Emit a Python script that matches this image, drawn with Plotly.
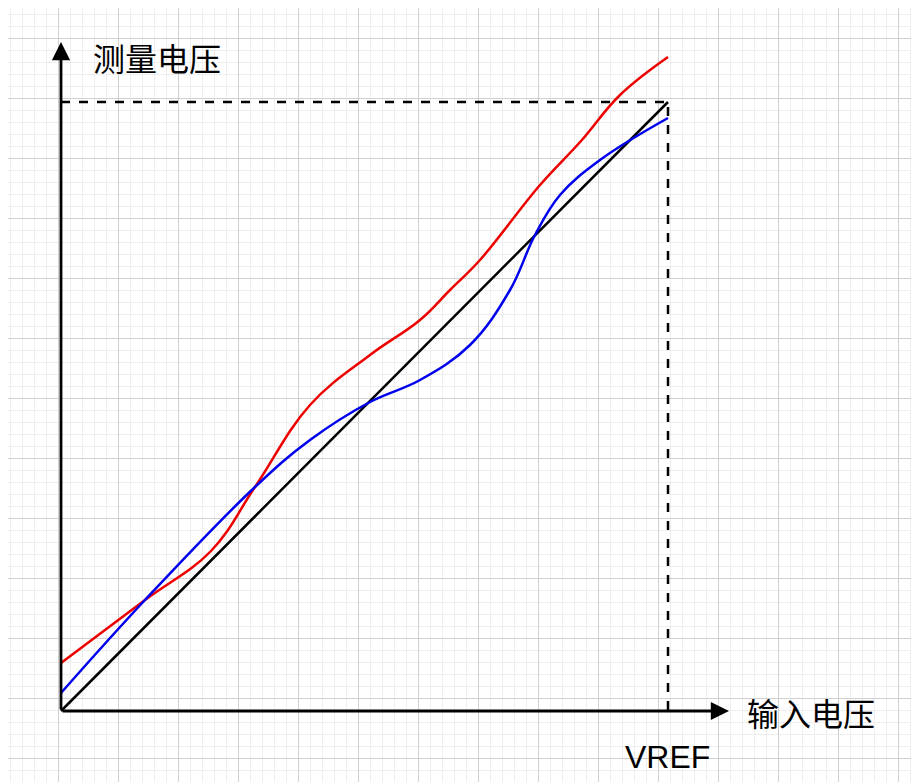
import plotly.graph_objects as go

# units: 1 unit ~ 1 px, origin at axes corner; VREF = 607
vref = 607
ideal_x = [0, 607]
ideal_y = [0, 609]
red_x = [0, 84, 150, 194, 249, 309, 359, 389, 419, 479, 520, 559, 607]
red_y = [48, 111, 160, 224, 306, 356, 391, 421, 451, 526, 570, 616, 654]
blue_x = [0, 84, 194, 249, 309, 359, 409, 449, 474, 499, 539, 607]
blue_y = [18, 111, 224, 271, 309, 331, 366, 421, 476, 516, 551, 593]

fig = go.Figure()
fig.add_trace(go.Scatter(x=[0, vref, vref], y=[ideal_y[1], ideal_y[1], 0], mode="lines",
                         line=dict(color="black", width=2.5, dash="dash")))
fig.add_trace(go.Scatter(x=ideal_x, y=ideal_y, mode="lines", line=dict(color="black", width=2.5)))
fig.add_trace(go.Scatter(x=red_x, y=red_y, mode="lines", line=dict(color="#ee0000", width=2.5, shape="spline", smoothing=1.1)))
fig.add_trace(go.Scatter(x=blue_x, y=blue_y, mode="lines", line=dict(color="#0000ee", width=2.5, shape="spline", smoothing=1.1)))

# axes arrows
fig.add_annotation(x=668, y=0, ax=0, ay=0, xref="x", yref="y", axref="x", ayref="y",
                   showarrow=True, arrowhead=2, arrowsize=1.3, arrowwidth=2.8, arrowcolor="black", text="")
fig.add_annotation(x=0, y=669, ax=0, ay=0, xref="x", yref="y", axref="x", ayref="y",
                   showarrow=True, arrowhead=2, arrowsize=1.3, arrowwidth=2.8, arrowcolor="black", text="")

font = dict(family="Noto Sans CJK SC", size=32, color="black")
fig.add_annotation(x=30, y=654, text="测量电压", showarrow=False, xanchor="left", font=font)
fig.add_annotation(x=684, y=-1, text="输入电压", showarrow=False, xanchor="left", font=font)
fig.add_annotation(x=606, y=-46, text="VREF", showarrow=False, font=dict(family="Liberation Sans", size=32, color="black"))

fig.update_xaxes(range=[-53, 866], visible=True, showline=False, zeroline=False, showticklabels=False,
                 tick0=-3, dtick=60, gridcolor="#d0d0d0", gridwidth=1,
                 minor=dict(showgrid=True, gridcolor="#eeeeee", dtick=12, tick0=-3))
fig.update_yaxes(range=[-79, 703], visible=True, showline=False, zeroline=False, showticklabels=False,
                 tick0=13, dtick=60, gridcolor="#d0d0d0", gridwidth=1,
                 minor=dict(showgrid=True, gridcolor="#eeeeee", dtick=12, tick0=13))
fig.update_layout(width=919, height=782, margin=dict(l=0, r=0, t=0, b=0), showlegend=False,
                  plot_bgcolor="white", paper_bgcolor="white")
fig.write_html("out.html")
